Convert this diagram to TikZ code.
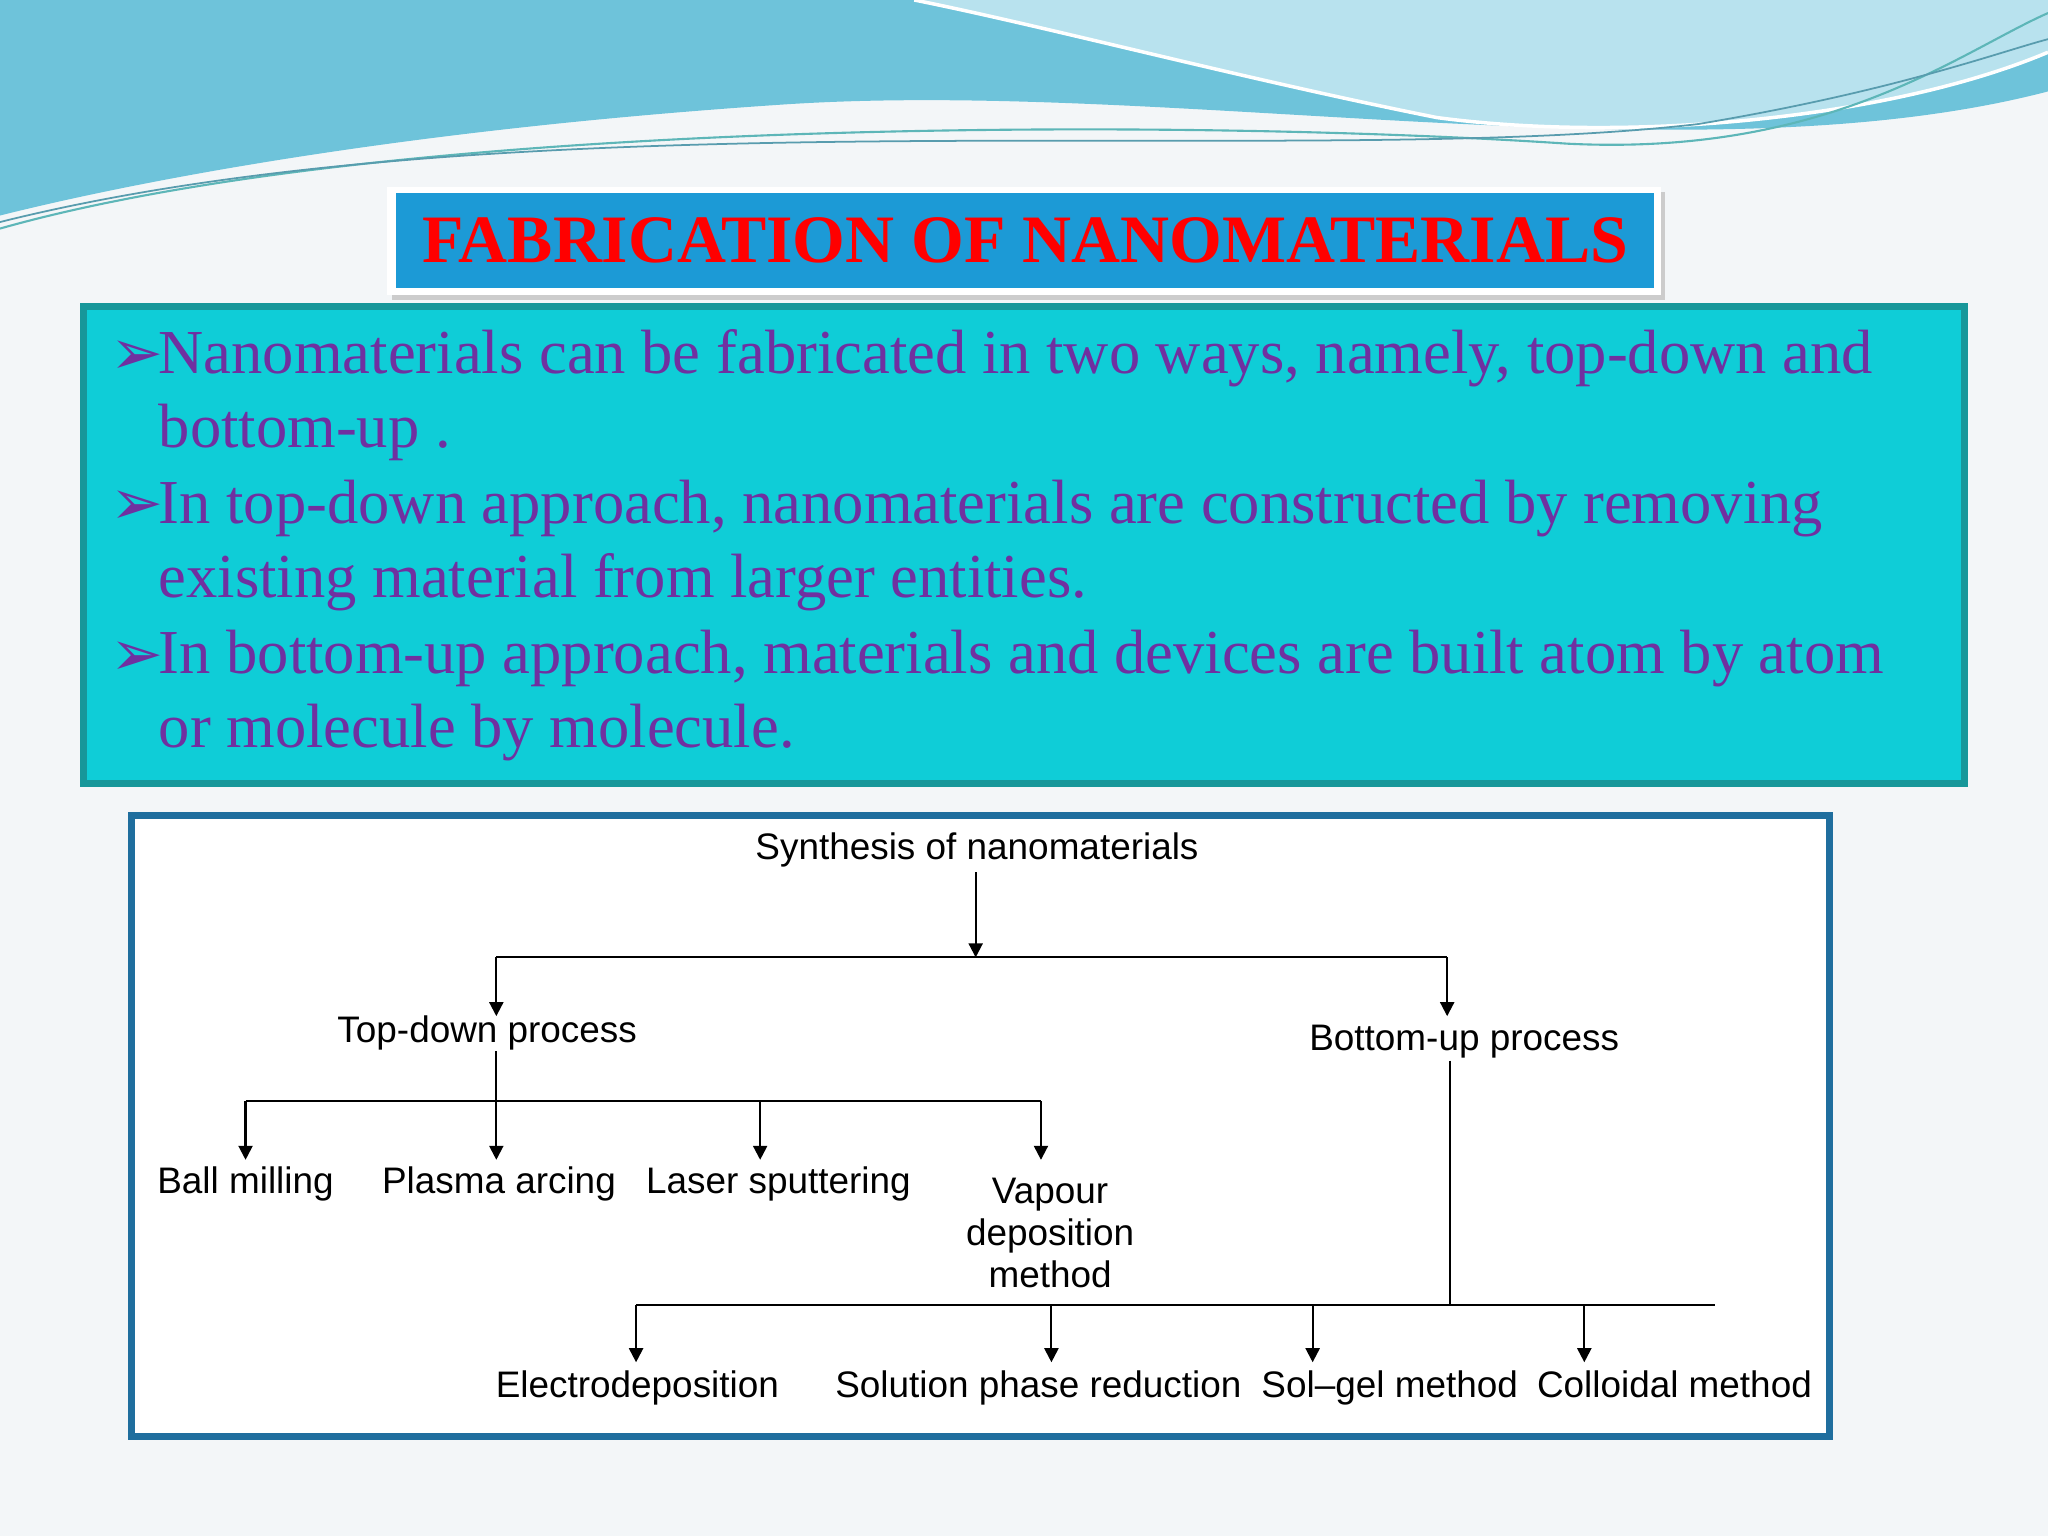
\documentclass[tikz,border=0pt]{standalone}
\usepackage{fontspec}
\setmainfont{Liberation Serif}
\setsansfont{Liberation Sans}
\newfontfamily\symfont{DejaVu Sans}
\usetikzlibrary{arrows.meta}
\definecolor{bg}{HTML}{F3F6F8}
\definecolor{wave}{HTML}{6EC3DA}
\definecolor{wavel}{HTML}{B8E2EE}
\definecolor{tblue}{HTML}{1C9AD6}
\definecolor{teal}{HTML}{0FCDD7}
\definecolor{tealb}{HTML}{17979A}
\definecolor{purp}{HTML}{7030A0}
\definecolor{dbox}{HTML}{1F6E9E}
\tikzset{
 lbl/.style={font=\sffamily\fontsize{10.5pt}{12.3pt}\selectfont, inner sep=1pt, align=center, text height=8pt, text depth=2pt},
 ln/.style={line width=0.6pt, black},
 arr/.style={ln, -{Triangle[length=4pt,width=4pt]}},
 btxt/.style={anchor=west, font=\fontsize{17.8pt}{22pt}\selectfont, text=purp, inner sep=0pt},
 bul/.style={anchor=west, text=purp, inner sep=0pt, font=\symfont\bfseries\fontsize{18pt}{18pt}\selectfont},
}
\begin{document}
\begin{tikzpicture}[x=0.01306cm,y=-0.01306cm]
\fill[bg] (0,0) rectangle (1568,1176);
\useasboundingbox (0,0) rectangle (1568,1176);
% waves
\fill[wave] (0,0) -- (1568,0) -- (1568,70) .. controls (1300,140) and (900,60) .. (600,80) .. controls (300,100) and (100,140) .. (0,165) -- cycle;
\fill[wavel] (700,0) -- (1568,0) -- (1568,40) .. controls (1450,90) and (1250,110) .. (1100,90) .. controls (950,60) and (800,20) .. (700,0) -- cycle;
\draw[white, line width=1pt] (700,0) .. controls (800,20) and (950,60) .. (1100,90) .. controls (1250,110) and (1450,90) .. (1568,40);
\draw[tealb!70, line width=0.6pt] (0,175) .. controls (300,90) and (900,90) .. (1200,110) .. controls (1400,120) and (1500,40) .. (1568,10);
\draw[wave!80!black, line width=0.5pt] (0,170) .. controls (400,70) and (1000,130) .. (1300,95) .. controls (1450,70) and (1530,40) .. (1568,30);
% title
\fill[gray!40] (300,147) rectangle (1275,230);
\fill[white] (296,143) rectangle (1272,226);
\node[fill=tblue, minimum width=963*0.01306cm, minimum height=73*0.01306cm, anchor=north west, inner sep=0pt] (title) at (303,147) {};
\node[text=red, font=\bfseries\fontsize{19.3pt}{22pt}\selectfont] at (title) {FABRICATION OF NANOMATERIALS};
% teal box
\draw[fill=teal, draw=tealb, line width=2pt] (64,235) rectangle (1504,600);
\node[bul] (b1) at (84,274) {➢};
\node[bul] (b2) at (84,389) {➢};
\node[bul] (b3) at (84,504) {➢};
\node[btxt] (t1) at (121,274) {Nanomaterials can be fabricated in two ways, namely, top-down and};
\node[btxt] (t2) at (121,331) {bottom-up .};
\node[btxt] (t3) at (121,389) {In top-down approach, nanomaterials are constructed by removing};
\node[btxt] (t4) at (121,446) {existing material from larger entities.};
\node[btxt] (t5) at (121,504) {In bottom-up approach, materials and devices are built atom by atom};
\node[btxt] (t6) at (121,561) {or molecule by molecule.};
% diagram box
\draw[fill=white, draw=dbox, line width=2pt] (101,624) rectangle (1401,1100);
\node[lbl] (syn) at (748,650) {Synthesis of nanomaterials};
\node[lbl] (td) at (373,790) {Top-down process};
\node[lbl] (bu) at (1121,796) {Bottom-up process};
\node[lbl] (ball) at (188,906) {Ball milling};
\node[lbl] (plas) at (382,906) {Plasma arcing};
\node[lbl] (las) at (596,906) {Laser sputtering};
\node[lbl, text height=, text depth=, font=\sffamily\fontsize{10.5pt}{12pt}\selectfont] (vap) at (804,944) {Vapour\\deposition\\method};
\node[lbl] (ele) at (488,1062) {Electrodeposition};
\node[lbl] (sol) at (795,1062) {Solution phase reduction};
\node[lbl] (sg) at (1064,1062) {Sol--gel method};
\node[lbl] (col) at (1282,1062) {Colloidal method};
\coordinate (j1) at (747,733);
\coordinate (j2) at (380,843);
\coordinate (j3) at (1110,999);
\draw[arr] (747,668) -- (j1);
\draw[ln] (380,733) -- (1108,733);
\draw[arr] (380,733) -- (380,778);
\draw[arr] (1108,733) -- (1108,778);
\draw[ln] (380,805) -- (j2);
\draw[ln] (188,843) -- (797,843);
\foreach \x in {188,380,582,797} \draw[arr] (\x,843) -- (\x,888);
\draw[ln] (1110,812) -- (j3);
\draw[ln] (487,999) -- (1313,999);
\foreach \x in {487,805,1005,1213} \draw[arr] (\x,999) -- (\x,1043);
\end{tikzpicture}
\end{document}
